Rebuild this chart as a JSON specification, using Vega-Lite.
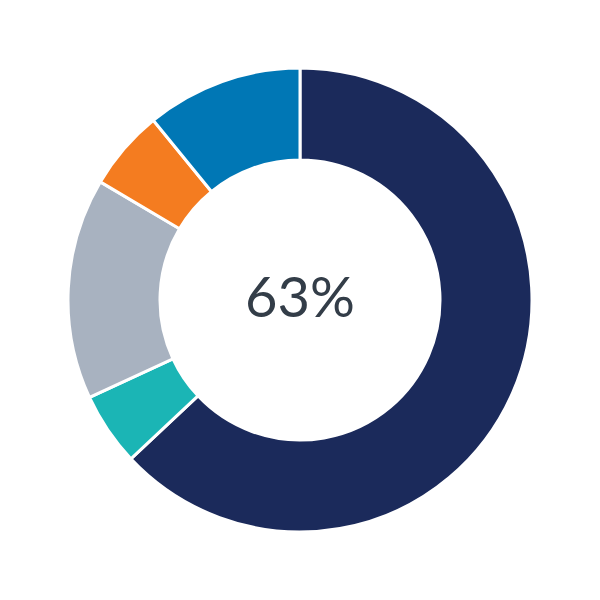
{
  "$schema": "https://vega.github.io/schema/vega-lite/v6.json",
  "width": 600,
  "height": 600,
  "autosize": {"type": "fit", "contains": "padding"},
  "padding": 0,
  "background": "white",
  "view": {"stroke": null},
  "data": {
    "values": [
      {"segment": "A", "share": 63, "rank": 1},
      {"segment": "B", "share": 5.1, "rank": 2},
      {"segment": "C", "share": 15.4, "rank": 3},
      {"segment": "D", "share": 5.6, "rank": 4},
      {"segment": "E", "share": 10.9, "rank": 5}
    ]
  },
  "layer": [
    {
      "mark": {"type": "arc", "outerRadius": 232, "innerRadius": 140, "stroke": "white", "strokeWidth": 3},
      "encoding": {
        "theta": {"field": "share", "type": "quantitative", "stack": true},
        "order": {"field": "rank", "type": "quantitative"},
        "color": {
          "field": "segment",
          "type": "nominal",
          "legend": null,
          "scale": {
            "domain": ["A", "B", "C", "D", "E"],
            "range": ["#1b2a5b", "#1bb5b5", "#a8b2c0", "#f47c20", "#0077b5"]
          }
        }
      }
    },
    {
      "data": {"values": [{"label": "63%"}]},
      "mark": {"type": "text", "fontSize": 56, "font": "Lato", "fontWeight": 400, "color": "#333d48", "align": "center", "baseline": "middle", "dy": 0},
      "encoding": {
        "text": {"field": "label", "type": "nominal"}
      }
    }
  ]
}
